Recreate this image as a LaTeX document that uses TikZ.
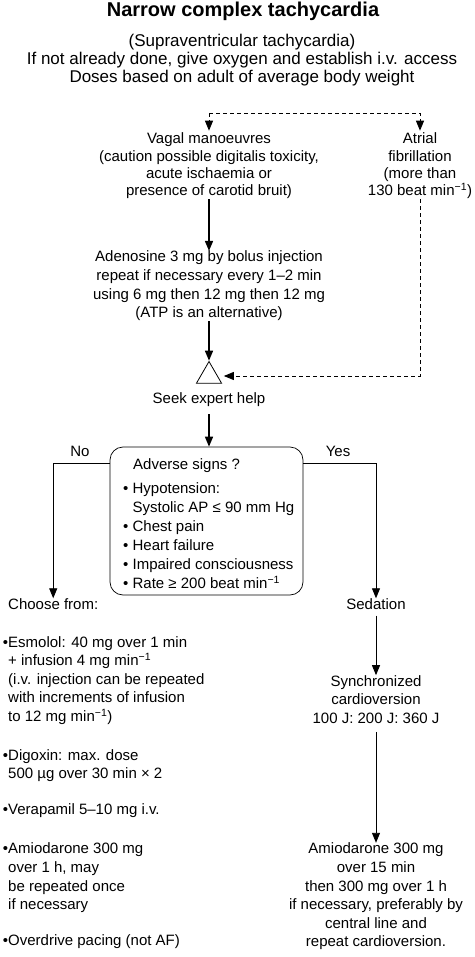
\documentclass[tikz,border=0pt]{standalone}
\usepackage{fontspec}
\setmainfont{Liberation Sans}
\usetikzlibrary{arrows.meta,shapes.geometric}
\begin{document}
\begin{tikzpicture}[x=1pt,y=-1pt,
  txt/.style={inner sep=0pt, font=\fontsize{15}{18.6}\selectfont, align=center},
  ltxt/.style={inner sep=0pt, font=\fontsize{15}{18.6}\selectfont, align=left},
  tip/.style={-{Triangle[length=10pt,width=8pt]}},
  arr/.style={line width=1.5pt, tip},
  thinarr/.style={line width=0.9pt, tip},
  dsh/.style={line width=0.9pt, dash pattern=on 4pt off 3pt, tip}
]
\useasboundingbox (0,0) rectangle (474,957);

\node[inner sep=0pt, font=\bfseries\fontsize{20}{24}\selectfont] (title) at (243,11) {Narrow complex tachycardia};
\node[txt, font=\fontsize{17}{18}\selectfont] (hdr) at (242,60) {(Supraventricular tachycardia)\\If not already done, give oxygen and establish i.v. access\\Doses based on adult of average body weight};

\coordinate (split) at (209,113);
\node[txt, font=\fontsize{15}{17.4}\selectfont] (vagal) at (209,166) {Vagal manoeuvres\\(caution possible digitalis toxicity,\\acute ischaemia or\\presence of carotid bruit)};
\node[txt, font=\fontsize{15}{17.4}\selectfont] (atrial) at (420,166) {Atrial\\fibrillation\\(more than\\130 beat min\textsuperscript{−1})};

\node[txt] (aden) at (209,286) {Adenosine 3 mg by bolus injection\\repeat if necessary every 1–2 min\\using 6 mg then 12 mg then 12 mg\\(ATP is an alternative)};

\node[draw, regular polygon, regular polygon sides=3, minimum size=29pt, inner sep=0pt, line width=0.8pt] (tri) at (209,376) {};
\node[txt] (seek) at (209,400) {Seek expert help};

\node[draw, rounded corners=13pt, minimum width=193pt, minimum height=148pt, line width=0.7pt, inner sep=0pt] (adv) at (206.5,521) {};
\node[ltxt, anchor=west, font=\fontsize{15}{19}\selectfont] (advt) at (123,523.5) {\hspace*{10pt}Adverse signs ?\\[5pt]• Hypotension:\\\phantom{• }Systolic AP ≤ 90 mm Hg\\• Chest pain\\• Heart failure\\• Impaired consciousness\\• Rate ≥ 200 beat min\textsuperscript{−1}};

\node[txt] (no) at (80,451) {No};
\node[txt] (yes) at (338,451) {Yes};

\node[txt, anchor=west] (choose) at (8,604) {Choose from:};
\node[txt] (sed) at (376,604) {Sedation};

\node[ltxt, anchor=west] (esm) at (8,680.5) {\llap{•}Esmolol: 40 mg over 1 min\\+ infusion 4 mg min\textsuperscript{−1}\\(i.v. injection can be repeated\\with increments of infusion\\to 12 mg min\textsuperscript{−1})};
\node[ltxt, anchor=west] (dig) at (8,765.5) {\llap{•}Digoxin: max. dose\\500 µg over 30 min × 2};
\node[ltxt, anchor=west] (ver) at (8,811) {\llap{•}Verapamil 5–10 mg i.v.};
\node[ltxt, anchor=west] (amiL) at (8,878) {\llap{•}Amiodarone 300 mg\\over 1 h, may\\be repeated once\\if necessary};
\node[ltxt, anchor=west] (ovd) at (8,942) {\llap{•}Overdrive pacing (not AF)};

\node[txt] (sync) at (376,699.5) {Synchronized\\cardioversion\\100 J: 200 J: 360 J};
\node[txt] (amiR) at (376,896.5) {Amiodarone 300 mg\\over 15 min\\then 300 mg over 1 h\\if necessary, preferably by\\central line and\\repeat cardioversion.};

% connectors
\draw[dsh, shorten >=2pt] (split) -- (split |- vagal.north);
\draw[dsh, shorten >=2pt] (split) -| (atrial.north);
\draw[dsh, shorten >=6pt] (atrial.south) |- (tri.east);
\draw[arr] (vagal.south -| tri.north) -- (aden.north -| tri.north);
\draw[arr] (aden.south -| tri.north) -- (tri.north);
\draw[arr, shorten <=7pt] (seek.south) -- (seek.south |- adv.north);
\draw[thinarr] ([yshift=58pt]adv.west) -| (choose.north);
\draw[thinarr] ([yshift=58pt]adv.east) -| (sed.north);
\draw[thinarr, shorten <=6pt] (sed.south) -- (sync.north);
\draw[thinarr, shorten <=8pt] (sync.south) -- (amiR.north);
\end{tikzpicture}
\end{document}
